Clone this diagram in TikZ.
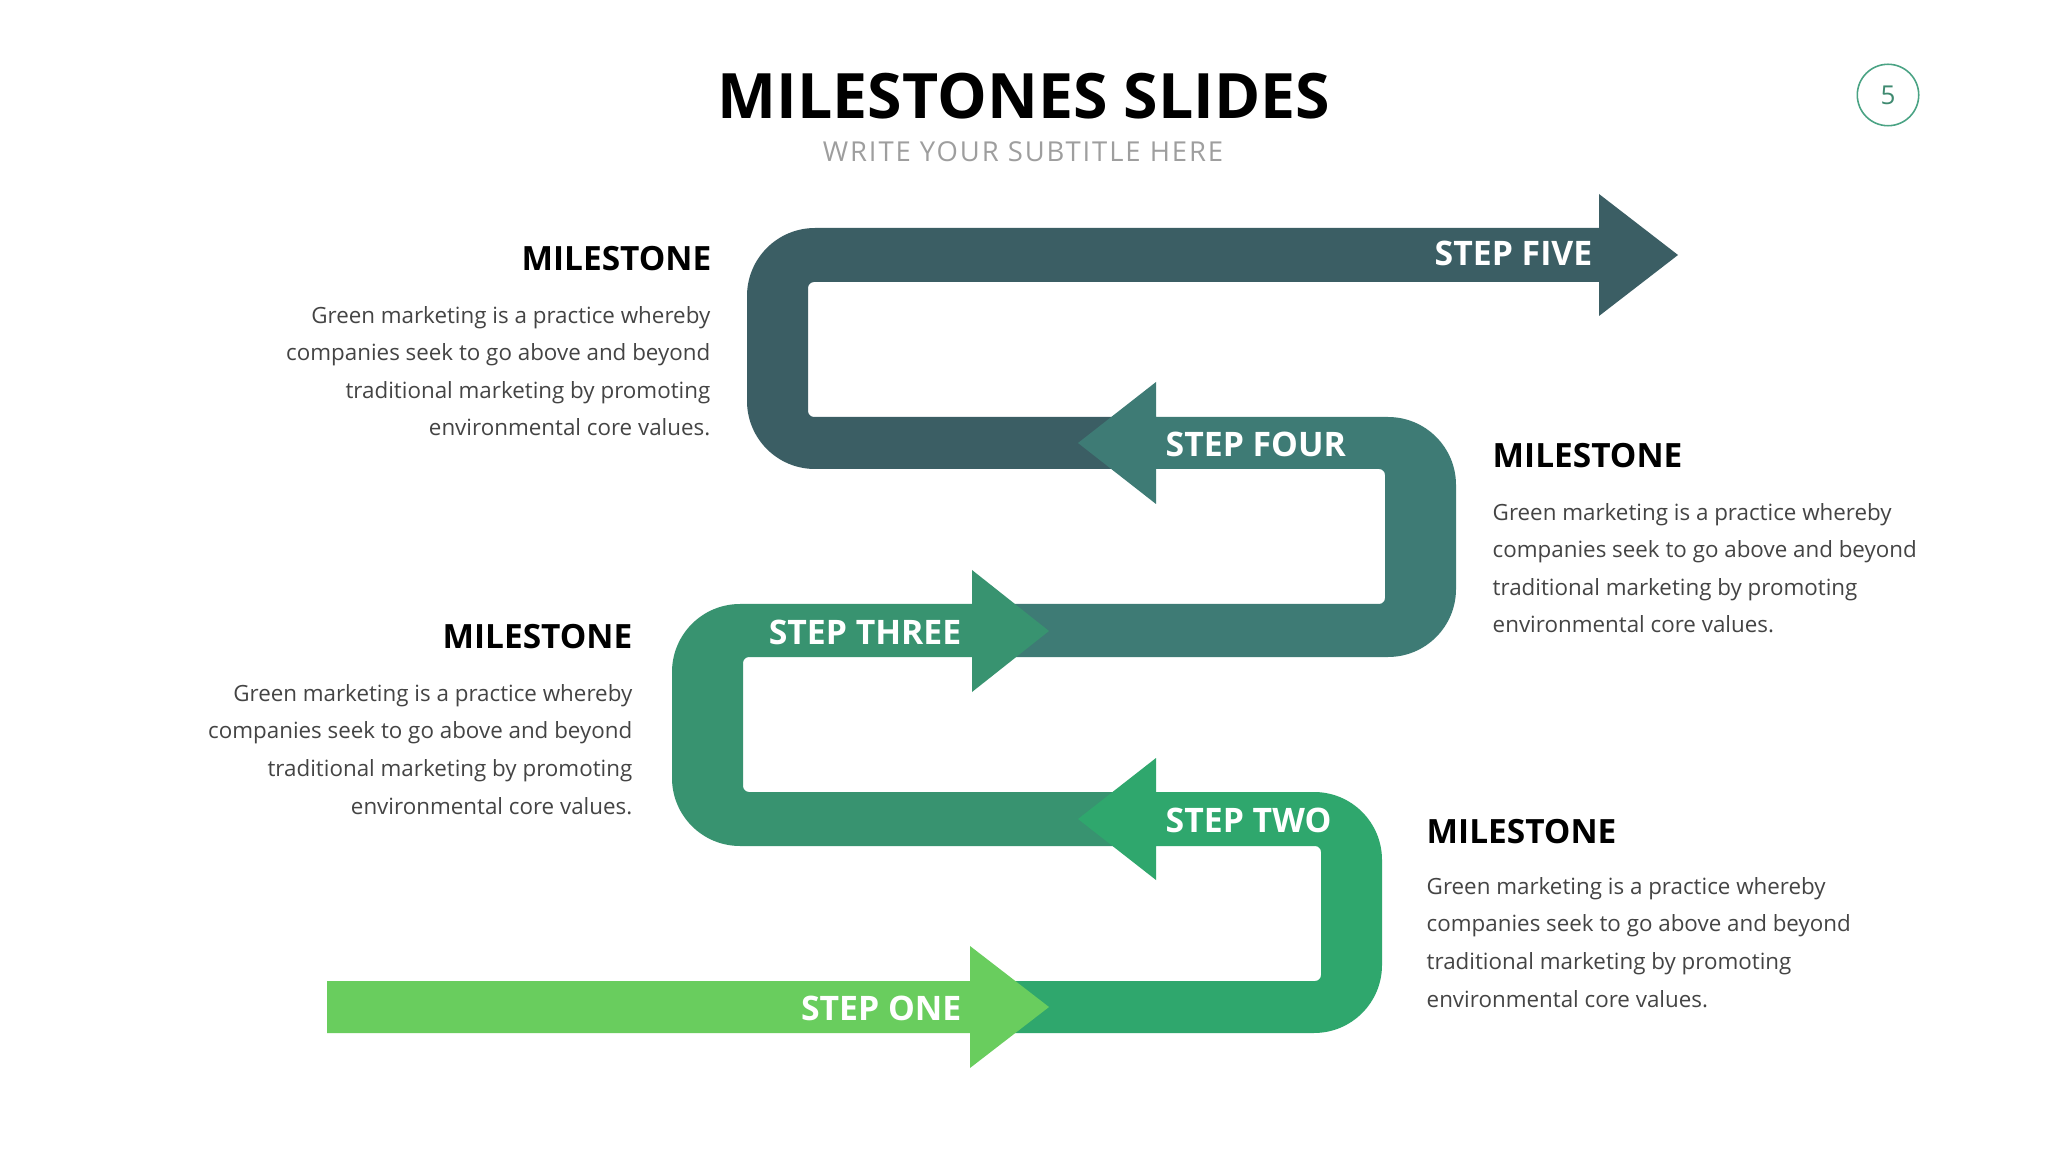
\documentclass[tikz,border=0pt]{standalone}
\usepackage{fontspec}
\setmainfont{Open Sans}
\definecolor{cfive}{HTML}{3B5E64}
\definecolor{cfour}{HTML}{3E7B75}
\definecolor{cthree}{HTML}{389370}
\definecolor{ctwo}{HTML}{2FA76D}
\definecolor{cone}{HTML}{69CD5E}
\definecolor{bodygrey}{HTML}{444444}
\definecolor{subgrey}{HTML}{9E9E9E}
\definecolor{numgreen}{HTML}{4AA384}
\tikzset{
  steplabel/.style={inner sep=0pt, text=white, font=\fontsize{9.6}{11}\selectfont\bfseries},
  mshead/.style={inner sep=0pt, text=black, font=\fontsize{9.5}{11}\selectfont\bfseries},
  msbody/.style={inner sep=0pt, text=bodygrey, font=\fontsize{6.36}{10.7}\selectfont},
}
\begin{document}
\begin{tikzpicture}[x=0.01cm, y=-0.01cm]
\useasboundingbox (0,0) rectangle (2048,1152);
\fill[white] (0,0) rectangle (2048,1152);

% title
\node[inner sep=0pt, anchor=base, font=\fontsize{17.8}{22}\selectfont\bfseries] (title) at (1024,119) {MILESTONES SLIDES};
\node[inner sep=0pt, anchor=base, text=subgrey, font=\fontsize{7.8}{9}\selectfont\addfontfeature{LetterSpace=7}] (subtitle) at (1023,162) {WRITE YOUR SUBTITLE HERE};
\node[circle, draw=numgreen, line width=0.45pt, minimum size=0.614cm, inner sep=0pt, text=numgreen!85!black, font=\fontsize{7.4}{9}\selectfont] (pagenum) at (1888,95) {5};

% step five
\fill[cfive] (1130,417) -- (814,417) .. controls (810.7,417) and (808,414.3) .. (808,411)
  -- (808,288) .. controls (808,284.7) and (810.7,282) .. (814,282)
  -- (1599,282) -- (1599,316) -- (1678,255) -- (1599,194) -- (1599,228)
  -- (815,228) .. controls (777.4,228) and (747,258.4) .. (747,296)
  -- (747,401) .. controls (747,438.6) and (777.4,469) .. (815,469)
  -- (1130,469) -- cycle;

% step four
\fill[cfour] (1000,604) -- (1379,604) .. controls (1382.3,604) and (1385,601.3) .. (1385,598)
  -- (1385,475) .. controls (1385,471.7) and (1382.3,469) .. (1379,469)
  -- (1156,469) -- (1156,504) -- (1078,443) -- (1156,382) -- (1156,417)
  -- (1388,417) .. controls (1425.6,417) and (1456,447.4) .. (1456,485)
  -- (1456,589) .. controls (1456,626.6) and (1425.6,657) .. (1388,657)
  -- (1000,657) -- cycle;

% step three
\fill[cthree] (1130,792) -- (749,792) .. controls (745.7,792) and (743,789.3) .. (743,786)
  -- (743,663) .. controls (743,659.7) and (745.7,657) .. (749,657)
  -- (972,657) -- (972,692) -- (1049,631) -- (972,570) -- (972,604)
  -- (740,604) .. controls (702.4,604) and (672,634.4) .. (672,672)
  -- (672,778) .. controls (672,815.6) and (702.4,846) .. (740,846)
  -- (1130,846) -- cycle;

% step two
\fill[ctwo] (1000,981) -- (1315,981) .. controls (1318.3,981) and (1321,978.3) .. (1321,975)
  -- (1321,852) .. controls (1321,848.7) and (1318.3,846) .. (1315,846)
  -- (1156,846) -- (1156,880) -- (1078,819) -- (1156,758) -- (1156,792)
  -- (1314,792) .. controls (1351.6,792) and (1382,822.4) .. (1382,860)
  -- (1382,965) .. controls (1382,1002.6) and (1351.6,1033) .. (1314,1033)
  -- (1000,1033) -- cycle;

% step one
\fill[cone] (327,981) -- (970,981) -- (970,946) -- (1049,1007) -- (970,1068) -- (970,1033) -- (327,1033) -- cycle;

% step labels
\node[steplabel, anchor=base east] (s5) at (1593,266) {STEP FIVE};
\node[steplabel, anchor=base west] (s4) at (1165,457) {STEP FOUR};
\node[steplabel, anchor=base east] (s3) at (962,644) {STEP THREE};
\node[steplabel, anchor=base west] (s2) at (1165,832) {STEP TWO};
\node[steplabel, anchor=base east] (s1) at (962,1020) {STEP ONE};

% milestone blocks
\node[mshead, anchor=base east] (h1) at (712,271) {MILESTONE};
\node[msbody, align=right, anchor=base east] (b1) at (711,436) {Green marketing is a practice whereby\\companies seek to go above and beyond\\traditional marketing by promoting\\environmental core values.};

\node[mshead, anchor=base west] (h2) at (1492,468) {MILESTONE};
\node[msbody, align=left, anchor=base west] (b2) at (1492,633) {Green marketing is a practice whereby\\companies seek to go above and beyond\\traditional marketing by promoting\\environmental core values.};

\node[mshead, anchor=base east] (h3) at (633,649) {MILESTONE};
\node[msbody, align=right, anchor=base east] (b3) at (633,814) {Green marketing is a practice whereby\\companies seek to go above and beyond\\traditional marketing by promoting\\environmental core values.};

\node[mshead, anchor=base west] (h4) at (1426,843) {MILESTONE};
\node[msbody, align=left, anchor=base west] (b4) at (1426,1007) {Green marketing is a practice whereby\\companies seek to go above and beyond\\traditional marketing by promoting\\environmental core values.};
\end{tikzpicture}
\end{document}
